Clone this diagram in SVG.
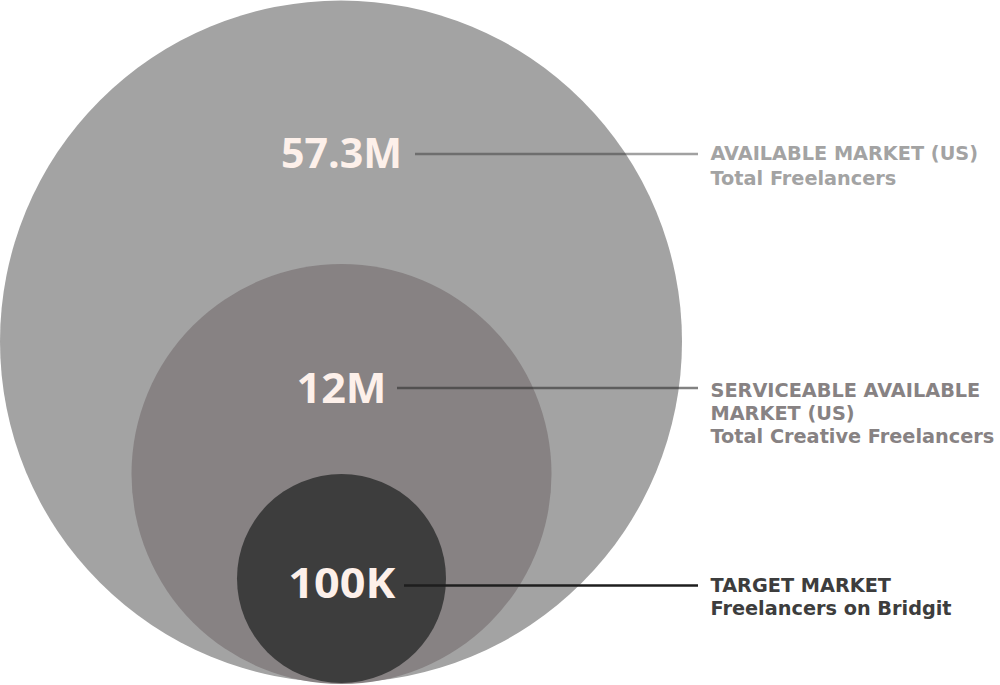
<svg xmlns="http://www.w3.org/2000/svg" width="1000" height="685" viewBox="0 0 1000 685">
<style>
.num{font-family:"Open Sans","Liberation Sans",sans-serif;font-weight:700;font-size:41px;fill:#fdf0ea}
.lbl{font-family:"DejaVu Sans","Open Sans",sans-serif;font-weight:700;font-size:19.3px}
.conn{fill:none;stroke-width:2.5}
</style>
<rect width="1000" height="685" fill="#ffffff"/>
<g id="available">
<circle cx="341" cy="341.5" r="341" fill="#a3a3a3"/>
</g>
<g id="serviceable">
<circle cx="341.5" cy="474" r="210" fill="#878283"/>
</g>
<g id="target">
<circle cx="341.5" cy="578.5" r="104.5" fill="#3d3d3d"/>
</g>
<g id="connectors">
<line class="conn" x1="415" y1="154" x2="698" y2="154" stroke="#2e2e2e" stroke-opacity="0.45"/>
<line class="conn" x1="397" y1="388" x2="698" y2="388" stroke="#2e2e2e" stroke-opacity="0.6"/>
<line class="conn" x1="404" y1="585.5" x2="698" y2="585.5" stroke="#1e1e1e"/>
</g>
<g id="available-text">
<text class="num" x="281" y="167.7" textLength="121" lengthAdjust="spacingAndGlyphs">57.3M</text>
<text class="lbl" x="710.5" y="160" fill="#a3a3a3">AVAILABLE MARKET (US)</text>
<text class="lbl" x="710.5" y="184.5" fill="#a3a3a3">Total Freelancers</text>
</g>
<g id="serviceable-text">
<text class="num" x="296.5" y="402.7" textLength="90" lengthAdjust="spacingAndGlyphs">12M</text>
<text class="lbl" x="710.5" y="397.3" fill="#878283">SERVICEABLE AVAILABLE</text>
<text class="lbl" x="710.5" y="420" fill="#878283">MARKET (US)</text>
<text class="lbl" x="710.5" y="442.7" fill="#878283">Total Creative Freelancers</text>
</g>
<g id="target-text">
<text class="num" x="288.3" y="598.3" textLength="107" lengthAdjust="spacingAndGlyphs">100K</text>
<text class="lbl" x="710.5" y="592.3" fill="#3d3d3d">TARGET MARKET</text>
<text class="lbl" x="710.5" y="615" fill="#3d3d3d">Freelancers on Bridgit</text>
</g>
</svg>
